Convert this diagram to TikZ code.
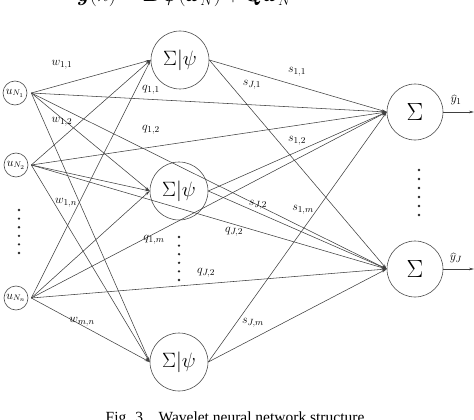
\documentclass[tikz,border=0pt]{standalone}
\usepackage{fontspec}
\setmainfont{Liberation Serif}
\usepackage{bm}
\usetikzlibrary{arrows.meta}

\tikzset{
  incirc/.style={circle, draw=black!70, line width=0.6pt, minimum size=24pt, inner sep=0pt, font=\fontsize{12}{14}\selectfont},
  hidcirc/.style={circle, draw=black!70, line width=0.6pt, minimum size=58pt, inner sep=0pt, font=\fontsize{21}{24}\selectfont},
  outcirc/.style={circle, draw=black!70, line width=0.6pt, minimum size=56pt, inner sep=0pt, font=\fontsize{25}{28}\selectfont},
  conn/.style={draw=black!75, line width=0.55pt, -{Stealth[length=5pt,width=2.6pt]}},
  wlab/.style={inner sep=0pt, font=\fontsize{13}{15}\selectfont},
}

\begin{document}
\begin{tikzpicture}[x=1pt,y=-1pt]
    \useasboundingbox (0,0) rectangle (474,420);

    % equation and caption
    \node[anchor=base, inner sep=0pt, font=\fontsize{20}{24}\selectfont] (eq) at (184,2)
      {$\bm{y}(n)=\bm{B\psi}(\bm{\omega}_N)+\bm{Q\omega}_N$};
    \node[anchor=base, inner sep=0pt, font=\fontsize{15.5}{18}\selectfont] (cap) at (235,422)
      {Fig. 3\quad Wavelet neural network structure};

    % inputs
    \node[incirc] (in1) at (15,93) {$u_{N_1}$};
    \node[incirc] (in2) at (16,165) {$u_{N_2}$};
    \node[incirc] (in3) at (16,298) {$u_{N_n}$};
    \coordinate (o1) at ([xshift=4]in1.east);
    \coordinate (o2) at ([xshift=3]in2.east);
    \coordinate (o3) at ([xshift=3]in3.east);
    \foreach \k in {0,...,5} \fill[black!85] (19,210+8.6*\k) circle (1.3);

    % hidden
    \node[hidcirc] (h1) at (180,60) {$\Sigma|\psi$};
    \node[hidcirc] (h2) at (179,191) {$\Sigma|\psi$};
    \node[hidcirc] (h3) at (179,362) {$\Sigma|\psi$};
    \foreach \k in {0,...,5} \fill[black!85] (179,237+8.6*\k) circle (1.3);

    % outputs
    \node[outcirc] (y1) at (415,112) {$\Sigma$};
    \node[outcirc] (y2) at (415,269) {$\Sigma$};
    \coordinate (e1) at (474,112);
    \coordinate (e2) at (474,269);
    \foreach \k in {0,...,5} \fill[black!85] (419,170+9*\k) circle (1.3);

    % lines from inputs
    \draw[conn] (o1) -- (h1.west);
    \draw[conn] (o1) -- (h2.west);
    \draw[conn] (o1) -- (h3.west);
    \draw[conn] (o1) -- (y1.west);
    \draw[conn] (o1) -- (y2.west);
    \draw[conn] (o2) -- (h1.west);
    \draw[conn] (o2) -- (h2.west);
    \draw[conn] (o2) -- (h3.west);
    \draw[conn] (o2) -- (y1.west);
    \draw[conn] (o2) -- (y2.west);
    \draw[conn] (o3) -- (h1.west);
    \draw[conn] (o3) -- (h2.west);
    \draw[conn] (o3) -- (h3.west);
    \draw[conn] (o3) -- (y1.west);
    \draw[conn] (o3) -- (y2.west);

    % lines from hidden
    \draw[conn] (h1.east) -- (y1.west);
    \draw[conn] (h1.east) -- (y2.west);
    \draw[conn] (h2.east) -- (y1.west);
    \draw[conn] (h2.east) -- (y2.west);
    \draw[conn] (h3.east) -- (y1.west);
    \draw[conn] (h3.east) -- (y2.west);

    % outputs out
    \draw[conn] (y1.east) -- (e1);
    \draw[conn] (y2.east) -- (e2);
    \node[wlab] (yl1) at (456,100) {$\widehat{y}_1$};
    \node[wlab] (yl2) at (456,258) {$\widehat{y}_J$};

    % weights
    \node[wlab] (w11) at (62,65) {$w_{1,1}$};
    \node[wlab] (w12) at (62,122) {$w_{1,2}$};
    \node[wlab] (w1n) at (66,203) {$w_{1,n}$};
    \node[wlab] (wmn) at (82,322) {$w_{m,n}$};
    \node[wlab] (q11) at (151,90) {$q_{1,1}$};
    \node[wlab] (q12) at (151,130) {$q_{1,2}$};
    \node[wlab] (q1m) at (154,240) {$q_{1,m}$};
    \node[wlab] (qJ2a) at (234,232) {$q_{J,2}$};
    \node[wlab] (qJ2b) at (206,273) {$q_{J,2}$};
    \node[wlab] (s11) at (297,72) {$s_{1,1}$};
    \node[wlab] (sJ1) at (252,85) {$s_{J,1}$};
    \node[wlab] (s12) at (297,141) {$s_{1,2}$};
    \node[wlab] (sJ2) at (258,205) {$s_{J,2}$};
    \node[wlab] (s1m) at (303,210) {$s_{1,m}$};
    \node[wlab] (sJm) at (253,323) {$s_{J,m}$};
  \end{tikzpicture}
\end{document}
